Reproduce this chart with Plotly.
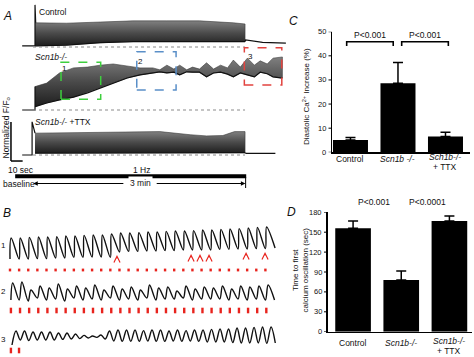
import plotly.graph_objects as go

W, H = 474, 357
def PX(p): return p / W
def PY(p): return 1 - p / H

FONT = "Liberation Sans, Arial, Helvetica, sans-serif"
RED = "#e8231d"

# ---------------- Panel A data (time in s, normalized F/F0) ----------------
ctrl_t   = [0, 27, 56, 84, 113, 141, 170, 180]
ctrl_top = [1.62, 1.61, 1.64, 1.67, 1.67, 1.67, 1.62, 1.59]
ctrl_bot = [1.03, 1.05, 1.11, 1.14, 1.14, 1.14, 1.14, 1.14]
ctrl_pre_t, ctrl_pre = [-11, 0], [1.03, 1.03]
ctrl_spike = 2.08
ctrl_post_t = [180.5, 195, 215]
ctrl_post = [1.18, 1.12, 1.10]

scn_t   = [0, 10, 21, 33, 45, 56, 67, 79, 90, 101, 107, 113, 119, 124, 130, 135,
           141, 147, 153, 159, 165, 170, 176, 182, 188, 193, 199, 204, 212]
scn_top = [1.60, 1.69, 1.95, 2.08, 2.10, 2.15, 2.18, 2.13, 2.08, 2.08, 2.03, 2.15,
           2.05, 2.15, 2.03, 2.10, 2.05, 2.21, 2.05, 2.15, 2.08, 2.28, 2.10, 2.33,
           2.15, 2.26, 2.18, 2.33, 2.36]
scn_bot = [1.085, 1.18, 1.26, 1.33, 1.44, 1.56, 1.69, 1.82, 1.90, 1.95, 1.98, 1.95,
           1.97, 1.90, 1.98, 1.97, 1.97, 1.85, 1.95, 1.97, 1.92, 1.85, 1.95, 1.90,
           1.85, 1.97, 1.93, 1.85, 1.82]
scn_pre_t, scn_pre = [-11, 0], [1.0, 1.0]

ttx_t   = [0, 27, 56, 84, 107, 133, 147, 161, 171, 180]
ttx_top = [1.56, 1.57, 1.59, 1.59, 1.60, 1.52, 1.49, 1.50, 1.60, 1.60]
ttx_bot = [1.05, 1.05, 1.06, 1.06, 1.06, 1.06, 1.06, 1.06, 1.06, 1.06]
ttx_pre_t, ttx_pre = [-11, -2.5], [1.0, 1.0]
ttx_spike = 1.85
ttx_post_t = [181, 206]
ttx_post = [1.04, 1.04]

# ---------------- Panel B data (beat-by-beat, normalized units) ----------------
b1_trough = [1.00, 1.00, 1.00, 1.02, 1.02, 1.05, 1.05, 1.08, 1.08, 1.10, 1.10, 1.08,
             1.35, 1.38, 1.38, 1.40, 1.40, 1.42, 1.42, 1.45, 1.45, 1.45, 1.45, 1.48,
             1.48, 1.50, 1.50, 1.52, 1.52]
b1_peak   = [2.05, 2.05, 2.08, 2.10, 2.10, 2.12, 2.15, 2.15, 2.18, 2.20, 2.20, 2.25,
             2.30, 2.30, 2.32, 2.35, 2.35, 2.38, 2.40, 2.40, 2.42, 2.45, 2.45, 2.48,
             2.50, 2.52, 2.55, 2.58, 2.60]
b1_end = 1.55
b1_stim = list(range(29))
b1_arrow_t = [11.73, 19.85, 20.83, 21.82, 25.88, 27.96]
b1_arrow_y = [1.20, 1.25, 1.25, 1.25, 1.35, 1.35]

b2_peak   = [1.90, 1.95, 1.55, 1.75, 1.65, 1.85, 1.60, 1.75, 1.65, 1.80, 1.55, 1.75,
             1.60, 1.70, 1.55, 1.80, 1.65, 1.70, 1.50, 1.75, 1.60, 1.70, 1.65, 1.75,
             1.60, 1.75, 1.70, 1.75, 1.80]
b2_trough = [1.05, 1.00, 1.15, 1.05, 1.10, 1.00, 1.15, 1.05, 1.10, 1.05, 1.15, 1.05,
             1.10, 1.05, 1.15, 1.05, 1.10, 1.10, 1.15, 1.05, 1.10, 1.10, 1.10, 1.05,
             1.10, 1.05, 1.10, 1.05, 1.05]
b2_stim = [i + 0.1 for i in range(29)]

b3_peak   = [1.70, 1.70, 1.65, 1.65, 1.65, 1.60, 1.60, 1.55, 1.48, 1.45, 1.50, 1.70,
             1.75, 1.75, 1.75, 1.72, 1.75, 1.75, 1.70, 1.75, 1.72, 1.75, 1.75, 1.78,
             1.80, 1.80, 1.85, 1.85, 1.88, 1.90, 1.90]
b3_trough = [1.25, 1.22, 1.25, 1.25, 1.25, 1.28, 1.30, 1.32, 1.35, 1.38, 1.30, 1.20,
             1.18, 1.18, 1.18, 1.20, 1.18, 1.18, 1.20, 1.18, 1.20, 1.18, 1.15, 1.15,
             1.15, 1.12, 1.10, 1.10, 1.10, 1.08, 1.10]
b3_start = 1.0
b3_first_peak_t = 0.66
b3_period = 0.932
b3_stim = [0.1, 0.99]

# ---------------- Panels C, D data ----------------
c_cats = ["Control", "<i>Scn1b -/-</i>", "<i>Sch1b-/-</i>"]
d_cats = ["Control", "<i>Scn1b-/-</i>", "<i>Scn1b-/-</i>"]
cat_line2 = ["", "", "+ TTX"]
c_mean = [5.1, 28.6, 6.5]
c_err = [1.0, 8.6, 1.8]
c_ticks = [0, 10, 20, 30, 40, 50]
d_mean = [156, 78, 167]
d_err = [11, 13.5, 7.5]
d_ticks = [0, 30, 60, 90, 120, 150, 180]

fig = go.Figure()

def band(t, top, bot, yax):
    xs = list(t) + list(t)[::-1]
    ys = list(top) + list(bot)[::-1]
    fig.add_trace(go.Scatter(
        x=xs, y=ys, xaxis="x", yaxis=yax, mode="lines", fill="toself",
        fillcolor="#4a4a4a", line=dict(width=0.6, color="#3a3a3a"),
        fillgradient=dict(type="vertical",
                          colorscale=[[0, "#1e1e1e"], [0.5, "#4a4a4a"], [1, "#808080"]]),
        hoverinfo="skip", showlegend=False))
    fig.add_trace(go.Scatter(x=t, y=bot, xaxis="x", yaxis=yax, mode="lines",
                             line=dict(width=1.2, color="#111"),
                             showlegend=False, hoverinfo="skip"))

def line(x, y, xa, ya, w=1.2, color="#111", shape="linear"):
    fig.add_trace(go.Scatter(x=x, y=y, xaxis=xa, yaxis=ya, mode="lines",
                             line=dict(width=w, color=color, shape=shape),
                             showlegend=False, hoverinfo="skip"))

# Control
band(ctrl_t, ctrl_top, ctrl_bot, "y")
line(ctrl_pre_t + [0, 0.6], ctrl_pre + [ctrl_spike, ctrl_top[0]], "x", "y")
line([ctrl_t[-1]] + ctrl_post_t, [ctrl_bot[-1]] + ctrl_post, "x", "y")
# Scn1b
band(scn_t, scn_top, scn_bot, "y2")
line(scn_pre_t + [0], scn_pre + [scn_top[0]], "x", "y2")
# TTX
band(ttx_t, ttx_top, ttx_bot, "y3")
line(ttx_pre_t + [-2.5, 0], ttx_pre + [ttx_spike, ttx_top[0]], "x", "y3")
line([ttx_t[-1]] + ttx_post_t, [ttx_bot[-1]] + ttx_post, "x", "y3")

# Panel B traces
x1, y1 = [], []
for i in range(len(b1_peak)):
    x1 += [i, i + 0.13]
    y1 += [b1_trough[i], b1_peak[i]]
x1.append(29.06); y1.append(b1_end)
line(x1, y1, "x2", "y4", w=1.4, shape="spline")

x2, y2 = [0.1], [b2_trough[0]]
for i in range(len(b2_peak)):
    x2 += [b2_stim[i] + 0.2, b2_stim[i] + 0.9]
    y2 += [b2_peak[i], b2_trough[i]]
line(x2, y2, "x2", "y5", w=1.4, shape="spline")

x3, y3 = [0.22], [b3_start]
for j in range(len(b3_peak)):
    x3 += [b3_first_peak_t + j * b3_period, b3_first_peak_t + (j + 0.5) * b3_period]
    y3 += [b3_peak[j], b3_trough[j]]
line(x3, y3, "x2", "y6", w=1.4, shape="spline")

def ticks(t, yv, ya, size):
    fig.add_trace(go.Scatter(x=t, y=[yv] * len(t), xaxis="x2", yaxis=ya, mode="markers",
                             marker=dict(symbol="line-ns", size=size,
                                         line=dict(width=2.4, color=RED)),
                             showlegend=False, hoverinfo="skip"))
ticks(b1_stim, 0.45, "y4", 2)
ticks(b2_stim, 0.525, "y5", 4)
ticks(b3_stim, 0.725, "y6", 4)

# Panels C and D bars
fig.add_trace(go.Bar(x=[0, 1, 2], y=c_mean, width=0.737, xaxis="x3", yaxis="y7",
                     marker=dict(color="black", line=dict(width=0)),
                     error_y=dict(type="data", array=c_err, arrayminus=[0, 0, 0],
                                  symmetric=False, color="black", thickness=1.5, width=5),
                     showlegend=False, hoverinfo="skip"))
fig.add_trace(go.Bar(x=[0, 1, 2], y=d_mean, width=0.74, xaxis="x4", yaxis="y8",
                     marker=dict(color="black", line=dict(width=0)),
                     error_y=dict(type="data", array=d_err, arrayminus=[0, 0, 0],
                                  symmetric=False, color="black", thickness=1.5, width=5),
                     showlegend=False, hoverinfo="skip"))

hidden = dict(visible=False, fixedrange=True, automargin=False)
xcat = dict(tickvals=[0, 1, 2], showticklabels=False, showline=True, linecolor="black",
            linewidth=1.2, ticks="", showgrid=False, zeroline=False, fixedrange=True,
            automargin=False)
yval = dict(showticklabels=False, ticks="", showline=True, linecolor="black",
            linewidth=1.2, showgrid=False, zeroline=False, fixedrange=True,
            automargin=False)
fig.update_layout(
    width=W, height=H,
    margin=dict(l=0, r=0, t=0, b=0, pad=0, autoexpand=False),
    paper_bgcolor="white", plot_bgcolor="rgba(0,0,0,0)",
    font=dict(family=FONT, size=8.5, color="#111"),
    showlegend=False, hovermode=False,
    xaxis=dict(domain=[PX(0), PX(286)], range=[-30, 215.1], anchor="y", **hidden),
    yaxis=dict(domain=[PY(55), PY(0)], range=[0.795, 2.205], anchor="x", **hidden),
    yaxis2=dict(domain=[PY(118), PY(45)], range=[0.795, 2.667], anchor="x", **hidden),
    yaxis3=dict(domain=[PY(165), PY(115)], range=[0.744, 2.026], anchor="x", **hidden),
    xaxis2=dict(domain=[PX(0), PX(282)], range=[-1.096, 29.82], anchor="y4", **hidden),
    yaxis4=dict(domain=[PY(275), PY(222)], range=[0.2, 2.85], anchor="x2", **hidden),
    yaxis5=dict(domain=[PY(316), PY(278)], range=[0.25, 2.15], anchor="x2", **hidden),
    yaxis6=dict(domain=[PY(357), PY(322)], range=[0.4, 2.15], anchor="x2", **hidden),
    xaxis3=dict(domain=[PX(332), PX(470)], range=[-0.389, 2.516], anchor="y7", **xcat),
    yaxis7=dict(domain=[PY(152.3), PY(31.7)], range=[0, 50], anchor="x3", **yval),
    xaxis4=dict(domain=[PX(327.5), PX(472)], range=[-0.531, 2.469], anchor="y8", **xcat),
    yaxis8=dict(domain=[PY(331.7), PY(212.3)], range=[0, 180], anchor="x4", **yval),
)

shapes = []
# dotted baselines
for ya in ["y", "y2", "y3"]:
    shapes.append(dict(type="line", xref="x", yref=ya, x0=-1.7, x1=180, y0=1.0, y1=1.0,
                       line=dict(color="#8a8a8a", width=1, dash="dot")))
# dashed region boxes
boxes = [(22.3, 56.3, 1.274, 2.223, "#3ecf3e"),
         (87.2, 120.9, 1.513, 2.495, "#5a8fc8"),
         (179.4, 211.5, 1.641, 2.597, "#e2433f")]
for x0, x1b, y0, y1b, col in boxes:
    shapes.append(dict(type="rect", xref="x", yref="y2", x0=x0, x1=x1b, y0=y0, y1=y1b,
                       line=dict(color=col, width=1.5, dash="dash")))
# scale bar (10 s x 1 unit)
shapes.append(dict(type="line", xref="x", yref="y3", x0=-20.6, x1=-20.6, y0=0.846, y1=1.846,
                   line=dict(color="black", width=1.5)))
shapes.append(dict(type="line", xref="x", yref="y3", x0=-20.6, x1=-10.6, y0=0.846, y1=0.846,
                   line=dict(color="black", width=1.5)))
# 1 Hz bar
shapes.append(dict(type="rect", xref="x", yref="paper", x0=-17, x1=181, y0=PY(178.3),
                   y1=PY(174.2), fillcolor="black", line=dict(width=0)))
# 3 min end tick
shapes.append(dict(type="line", xref="x", yref="paper", x0=180.5, x1=180.5, y0=PY(188),
                   y1=PY(177), line=dict(color="black", width=1)))
# P brackets C
for xa, xb in [(-0.08, 0.9), (1.078, 2.06)]:
    shapes.append(dict(type="path", xref="x3", yref="y7",
                       path=f"M {xa},44.1 L {xa},45.85 L {xb},45.85 L {xb},44.1",
                       line=dict(color="black", width=1.6)))
# P brackets D
for xa, xb in [(-0.04, 0.93), (1.05, 2.03)]:
    shapes.append(dict(type="path", xref="x4", yref="y8",
                       path=f"M {xa},181 L {xa},187.5 L {xb},187.5 L {xb},181",
                       line=dict(color="black", width=1.6)))

ann = []
def txt(x, y, s, size=8.5, xanchor="center", angle=0, xref="paper", yref="paper",
        yanchor="middle", **kw):
    ann.append(dict(x=x, y=y, xref=xref, yref=yref, text=s, showarrow=False,
                    xanchor=xanchor, yanchor=yanchor, textangle=angle,
                    font=dict(size=size, family=FONT, color="#111"), **kw))

# value-axis ticks for C and D (tick marks + labels at the axis values)
for v in c_ticks:
    shapes.append(dict(type="line", xref="paper", yref="y7", x0=PX(328.5), x1=PX(332),
                       y0=v, y1=v, line=dict(color="black", width=1)))
    txt(PX(327.5), v, str(v), size=7.5, xanchor="right", yref="y7")
for v in d_ticks:
    shapes.append(dict(type="line", xref="paper", yref="y8", x0=PX(324), x1=PX(327.5),
                       y0=v, y1=v, line=dict(color="black", width=1)))
    txt(PX(323.5), v, str(v), size=7.5, xanchor="right", yref="y8")
fig.update_layout(shapes=shapes)

txt(PX(7), PY(16), "<i>A</i>", size=12)
txt(PX(7), PY(213), "<i>B</i>", size=12)
txt(PX(293), PY(21), "<i>C</i>", size=12)
txt(PX(291), PY(212), "<i>D</i>", size=12)
txt(PX(36.5), PY(12.5), "Control", xanchor="left")
txt(PX(32.5), PY(56.5), "<i>Scn1b-/-</i>", xanchor="left")
txt(PX(32.5), PY(122), "<i>Scn1b-/-</i> +TTX", xanchor="left")
txt(PX(5.5), PY(128), "Normalized F/F<sub>o</sub>", angle=-90)
txt(PX(21), PY(169.5), "10 sec")
txt(PX(141), PY(170.3), "1 Hz")
txt(PX(1), PY(184), "baseline", xanchor="left")
txt(PX(140), PY(183.5), "3 min", bgcolor="white")
txt(PX(64.5), PY(68.5), "1", size=8)
txt(PX(140.5), PY(61), "2", size=8)
txt(PX(250), PY(56.5), "3", size=8)
txt(PX(4), PY(245), "1", size=8)
txt(PX(4), PY(291.5), "2", size=8)
txt(PX(4), PY(339), "3", size=8)
txt(PX(306.5), PY(96.5), "Diastolic Ca<sup>2+</sup> Increase (%)", size=8, angle=-90)
txt(PX(299.5), PY(270), "Time to first<br>calcium oscillation (sec)", size=8, angle=-90)
txt(PX(370), PY(35), "P<0.001")
txt(PX(425), PY(35), "P<0.001")
txt(PX(374), PY(202), "P<0.001")
txt(PX(427.7), PY(202), "P<0.0001")
# category labels (placed at the category positions of each bar axis)
for i, (s, s2) in enumerate(zip(c_cats, cat_line2)):
    txt(i, PY(157 if s2 else 159), s, xref="x3")
    if s2:
        txt(i, PY(166.5), s2, xref="x3")
for i, (s, s2) in enumerate(zip(d_cats, cat_line2)):
    txt(i, PY(341 if s2 else 343), s, xref="x4")
    if s2:
        txt(i, PY(351), s2, xref="x4")

# 3 min arrows (tip at the data time, tail towards the label)
for tip, tail in [(-1.5, 77), (180.3, 103)]:
    ann.append(dict(x=tip, y=PY(183.5), xref="x", yref="paper", ax=tail, ay=0,
                    axref="x", ayref="pixel", showarrow=True, arrowhead=2,
                    arrowsize=0.9, arrowwidth=1, arrowcolor="black", text=""))
# red arrows in trace 1
for t, yv in zip(b1_arrow_t, b1_arrow_y):
    ann.append(dict(x=t, y=yv, xref="x2", yref="y4", ax=0, ay=5, showarrow=True,
                    arrowhead=5, arrowsize=1.0, arrowwidth=1.2, arrowcolor=RED, text=""))
fig.update_layout(annotations=ann)

fig.write_html("out.html", config={"displayModeBar": False, "staticPlot": True},
               post_script="document.body.style.margin='0px';")
